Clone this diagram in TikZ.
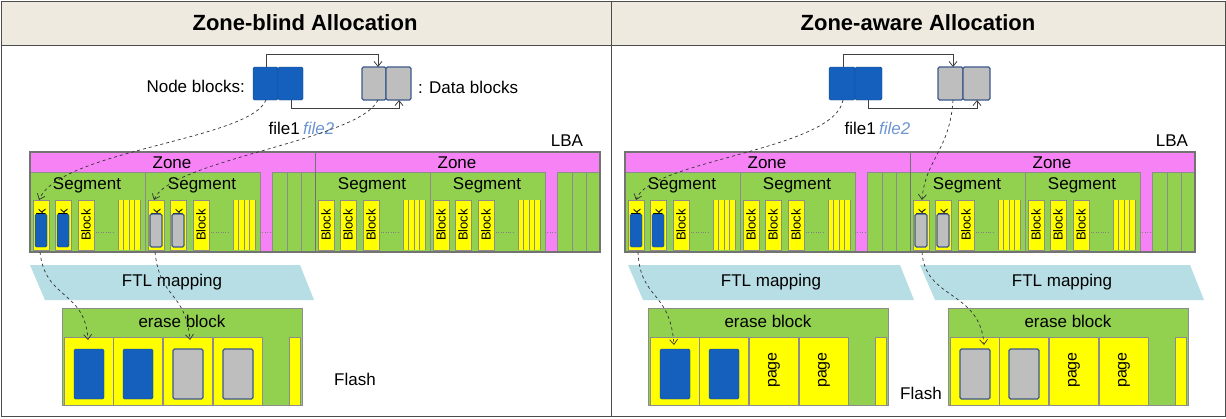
\documentclass[tikz,border=0pt]{standalone}
\usepackage{fontspec}
\setmainfont{Liberation Sans}
\usetikzlibrary{arrows.meta}
\definecolor{hdr}{RGB}{238,234,224}
\definecolor{zpink}{RGB}{246,130,246}
\definecolor{sgreen}{RGB}{146,208,80}
\definecolor{byel}{RGB}{255,255,0}
\definecolor{nblue}{RGB}{21,96,189}
\definecolor{dgray}{RGB}{190,190,190}
\definecolor{dedge}{RGB}{60,90,140}
\definecolor{ftl}{RGB}{183,222,228}
\definecolor{f2}{RGB}{110,150,210}
\tikzset{
  frame/.style={draw=black!70, line width=0.8pt},
  box/.style={draw=black!45, line width=0.5pt},
  nb/.style={fill=nblue, draw=nblue!70!black, rounded corners=1.5pt},
  db/.style={fill=dgray, draw=dedge, line width=1.3pt, rounded corners=1.5pt},
  lbl/.style={font=\fontsize{17}{19}\selectfont, inner sep=0pt},
  blk/.style={font=\fontsize{13}{15}\selectfont, rotate=90, inner sep=0pt},
  link/.style={draw=black!75, line width=0.8pt, -{Straight Barb[length=5pt,width=8pt]}},
  darr/.style={draw=black!80, dashed, line width=0.7pt, -{Straight Barb[length=5pt,width=8pt]}}
}
% segment: #1 = x, #2 = content of first two blocks (n, d or e)
\newcommand\segm[2]{%
  \fill[sgreen] (#1,172) rectangle ++(115,80);
  \draw[box] (#1,172) rectangle ++(115,80);
  \node[lbl] at (#1+57,185) {Segment};
  \foreach \o in {3,25,48}{
    \fill[byel] (#1+\o,200) rectangle ++(16,50);
    \draw[box] (#1+\o,200) rectangle ++(16,50);
    \node[blk] at (#1+\o+8,225) {Block};}
  \ifx n#2 \draw[nb] (#1+5,214) rectangle ++(12,33); \draw[nb] (#1+27,214) rectangle ++(12,33);\fi
  \ifx d#2 \draw[db] (#1+5,214) rectangle ++(12,33); \draw[db] (#1+27,214) rectangle ++(12,33);\fi
  \draw[black!50, dotted] (#1+66,232) -- (#1+85,232);
  \fill[byel] (#1+88,200) rectangle ++(22,50);
  \foreach \o in {88,93.5,99,104.5,110} \draw[black!45] (#1+\o,200) -- (#1+\o,250);
}
% zone: #1 = x, #2 #3 = contents of its segments
\newcommand\zone[3]{%
  \fill[zpink] (#1,152) rectangle ++(285,100);
  \node[lbl] at (#1+142,163) {Zone};
  \segm{#1}{#2}\segm{#1+115}{#3}
  \fill[sgreen] (#1+242,172) rectangle ++(43,80);
  \draw[black!45] (#1+242,172) rectangle ++(43,80);
  \foreach \o in {257,271} \draw[black!45] (#1+\o,172) -- (#1+\o,252);
  \draw[black!50, dotted] (#1+230,232) -- (#1+240,232);
}
% erase block: #1 = x, #2..#5 cell contents (n, d, p)
\newcommand\cellc[2]{%
  \ifx n#2 \draw[nb] (#1+10,349) rectangle ++(30,50);\fi
  \ifx d#2 \draw[db] (#1+10,349) rectangle ++(30,50);\fi
  \ifx p#2 \node[blk, font=\fontsize{16}{18}\selectfont] at (#1+25,370) {page};\fi}
\newcommand\erase[5]{%
  \fill[sgreen] (#1,308) rectangle ++(240,97);
  \draw[box] (#1,308) rectangle ++(240,97);
  \node[lbl] at (#1+120,321) {erase block};
  \foreach \o in {2,51,101,151}{
    \fill[byel] (#1+\o,337) rectangle ++(49,68);
    \draw[box] (#1+\o,337) rectangle ++(49,68);}
  \fill[byel] (#1+227,337) rectangle ++(11,68);
  \draw[box] (#1+227,337) rectangle ++(11,68);
  \cellc{#1+2}{#2}\cellc{#1+51}{#3}\cellc{#1+101}{#4}\cellc{#1+151}{#5}
}
\newcommand\ftlmap[2]{%
  \fill[ftl] (#1,265) -- (#1+#2,265) -- (#1+#2+14,300) -- (#1+15,300) -- cycle;
  \node[lbl] at (#1+#2/2+7,282) {FTL mapping};}
\begin{document}
\begin{tikzpicture}[x=1pt,y=-1pt]
\useasboundingbox (0,0) rectangle (1226,418);
\fill[white] (0,0) rectangle (1226,418);
% headers
\fill[hdr] (1,1) rectangle (1225,45);
\draw[frame] (1,1) rectangle (1225,416);
\draw[frame] (1,45) -- (1225,45);
\draw[frame] (611,1) -- (611,416);
\node[font=\fontsize{22}{26}\selectfont\bfseries] at (305,23) {Zone-blind Allocation};
\node[font=\fontsize{22}{26}\selectfont\bfseries] at (918,23) {Zone-aware Allocation};

% ---- left panel ----
\draw[nb] (253,67) rectangle (278,100); \draw[nb] (278,67) rectangle (303,100);
\draw[db] (362,67) rectangle (386,100); \draw[db] (386,67) rectangle (411,100);
\coordinate (nL) at (266,100); \coordinate (dL) at (378,100);
\node[lbl, anchor=east] at (245,86) {Node blocks:};
\node[lbl, anchor=west] at (418,87) {: Data blocks};
\draw[link] (266,67) -- (266,54) -- (378,54) -- (378,67);
\draw[link] (291,100) -- (291,108) -- (399,108) -- (399,100);
\node[lbl, anchor=east] at (300,128) {file1};
\node[lbl, anchor=west, text=f2, font=\fontsize{17}{19}\selectfont\itshape] at (303,128) {file2};
\node[lbl] at (567,141) {LBA};
\zone{30}{n}{d}\zone{315}{e}{e}
\draw[black!55, line width=1.2pt] (30,152) rectangle (600,252);
\draw[black!55, line width=1pt] (315,152) -- (315,252);
\ftlmap{30}{270}
\erase{62}{n}{n}{d}{d}
\node[lbl] at (355,379) {Flash};
\draw[darr] (nL) .. controls (250,140) and (60,150) .. (39,200);
\draw[darr] (dL) .. controls (360,140) and (170,160) .. (154,200);
\draw[darr] (40,252) .. controls (45,300) and (85,290) .. (88,340);
\draw[darr] (155,252) .. controls (160,300) and (185,290) .. (190,340);

% ---- right panel ----
\draw[nb] (829,67) rectangle (855,100); \draw[nb] (855,67) rectangle (882,100);
\draw[db] (938,67) rectangle (963,100); \draw[db] (963,67) rectangle (990,100);
\draw[link] (843,67) -- (843,54) -- (953,54) -- (953,67);
\draw[link] (868,100) -- (868,108) -- (977,108) -- (977,100);
\node[lbl, anchor=east] at (876,128) {file1};
\node[lbl, anchor=west, text=f2, font=\fontsize{17}{19}\selectfont\itshape] at (879,128) {file2};
\node[lbl] at (1172,141) {LBA};
\zone{625}{n}{e}\zone{910}{d}{e}
\draw[black!55, line width=1.2pt] (625,152) rectangle (1195,252);
\draw[black!55, line width=1pt] (910,152) -- (910,252);
\ftlmap{628}{272}\ftlmap{920}{270}
\erase{648}{n}{n}{p}{p}\erase{948}{d}{d}{p}{p}
\node[lbl] at (921,393) {Flash};
\draw[darr] (843,100) .. controls (835,150) and (650,160) .. (636,200);
\draw[darr] (953,100) .. controls (950,150) and (925,160) .. (922,200);
\draw[darr] (638,252) .. controls (640,300) and (670,290) .. (674,345);
\draw[darr] (922,252) .. controls (925,300) and (980,290) .. (984,345);
\end{tikzpicture}
\end{document}
